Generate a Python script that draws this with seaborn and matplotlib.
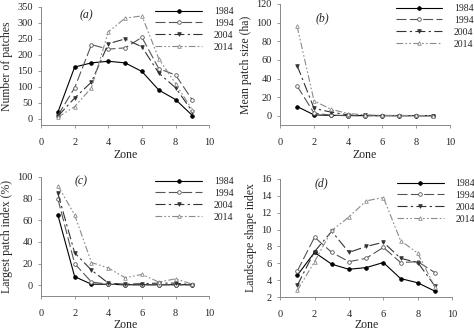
import numpy as np
import pandas as pd
import matplotlib
matplotlib.use('Agg')
import matplotlib.pyplot as plt
import seaborn as sns

zones = [1, 2, 3, 4, 5, 6, 7, 8, 9]
years = ['1984', '1994', '2004', '2014']

# Number of patches
np_1984 = [20, 162, 175, 180, 175, 148, 90, 60, 10]
np_1994 = [10, 97, 232, 218, 222, 255, 157, 137, 58]
np_2004 = [8, 65, 115, 235, 250, 225, 143, 97, 22]
np_2014 = [5, 38, 97, 272, 315, 322, 188, 110, 27]

# Mean patch size (ha)
mps_1984 = [10, 1, 0.5, 0.3, 0.2, 0.2, 0.2, 0.2, 0.1]
mps_1994 = [32, 3, 0.6, 0.3, 0.2, 0.2, 0.2, 0.2, 0.1]
mps_2004 = [54, 8, 4, 1, 0.5, 0.3, 0.3, 0.3, 0.2]
mps_2014 = [96, 16, 7, 2.5, 1, 0.6, 0.4, 0.4, 0.2]

# Largest patch index (%)
lpi_1984 = [65, 8, 1, 1, 0.5, 0.5, 0.5, 0.5, 0.5]
lpi_1994 = [80, 20, 3, 1, 0.5, 0.5, 0.5, 0.5, 0.5]
lpi_2004 = [85, 30, 14, 2, 1, 1.5, 2, 2, 0.5]
lpi_2014 = [92, 65, 21, 16, 7, 10, 3, 6, 1]

# Landscape shape index
lsi_1984 = [4.6, 7.3, 5.9, 5.3, 5.5, 6.1, 4.2, 3.7, 2.7]
lsi_1994 = [5.1, 9.1, 7.3, 6.2, 6.6, 7.9, 6.1, 6.2, 4.9]
lsi_2004 = [3.4, 7.4, 9.8, 7.3, 8.0, 8.5, 6.6, 6.1, 3.3]
lsi_2014 = [2.8, 6.2, 9.9, 11.5, 13.4, 13.8, 8.7, 7.2, 3.2]

# tag, y label, series, y limits, y ticks, axes rect, tag position, x label pad
panels = [
    ('(a)', 'Number of patches', [np_1984, np_1994, np_2004, np_2014],
     (-20, 350), np.arange(0, 351, 50), [0.0865, 0.623, 0.355, 0.356], (0.27, 0.93), 2),
    ('(b)', 'Mean patch size (ha)', [mps_1984, mps_1994, mps_2004, mps_2014],
     (-10, 120), np.arange(0, 121, 20), [0.591, 0.623, 0.358, 0.365], (0.25, 0.88), 2),
    ('(c)', 'Largest patch index (%)', [lpi_1984, lpi_1994, lpi_2004, lpi_2014],
     (-10, 100), np.arange(0, 101, 20), [0.0865, 0.108, 0.355, 0.359], (0.24, 0.96), 1),
    ('(d)', 'Landscape shape index', [lsi_1984, lsi_1994, lsi_2004, lsi_2014],
     (2, 16), np.arange(2, 17, 2), [0.591, 0.105, 0.363, 0.356], (0.24, 0.96), 0),
]

line_styles = {
    '1984': dict(color='black', linestyle='-', marker='o', mfc='black'),
    '1994': dict(color='#555555', linestyle=(0, (9, 3)), marker='o', mfc='white'),
    '2004': dict(color='#333333', linestyle=(0, (9, 3, 2, 3)), marker='v', mfc='#333333'),
    '2014': dict(color='#8a8a8a', linestyle=(0, (6, 2, 1.5, 2, 1.5, 2)), marker='^', mfc='white'),
}

sns.set_style('ticks')
plt.rcParams['font.family'] = ['Liberation Serif', 'DejaVu Serif']

fig = plt.figure(figsize=(4.74, 3.32), dpi=100)

for tag, ylabel, series, ylim, yticks, pos, tagpos, xpad in panels:
    ax = fig.add_axes(pos)
    for year, vals in zip(years, series):
        st = line_styles[year]
        df = pd.DataFrame({'Zone': zones, 'value': vals})
        sns.lineplot(data=df, x='Zone', y='value', ax=ax, label=year,
                     color=st['color'], linestyle=st['linestyle'],
                     marker=st['marker'], markersize=2.6,
                     markerfacecolor=st['mfc'], markeredgecolor=st['color'],
                     markeredgewidth=0.6, linewidth=0.8)
    ax.set_xlim(0, 10)
    ax.set_xticks([0, 2, 4, 6, 8, 10])
    ax.set_ylim(*ylim)
    ax.set_yticks(yticks)
    ax.set_xlabel('Zone', fontsize=8.5, labelpad=xpad)
    ax.set_ylabel(ylabel, fontsize=8.5, labelpad=3)
    ax.tick_params(labelsize=7.5, length=2, width=0.6, color='#888888')
    ax.tick_params(axis='x', pad=7)
    ax.tick_params(axis='y', pad=4)
    for side in ['left', 'bottom']:
        ax.spines[side].set_linewidth(0.7)
        ax.spines[side].set_color('#888888')
    sns.despine(ax=ax)
    ax.text(tagpos[0], tagpos[1], tag, transform=ax.transAxes, fontsize=8.5,
            style='italic', ha='center', va='center')
    ax.legend(loc='upper left', bbox_to_anchor=(0.68, 1.0), frameon=False,
              fontsize=7, handlelength=4.8, handletextpad=1.2,
              labelspacing=0.3, borderaxespad=0, borderpad=0)

fig.savefig('out.png', dpi=100)
